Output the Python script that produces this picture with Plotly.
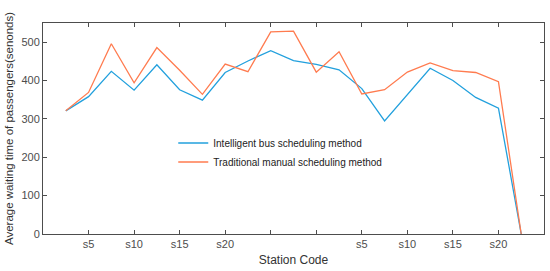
import plotly.graph_objects as go

stations = list(range(1, 22))
intelligent = [321, 358, 424, 375, 441, 376, 349, 421, 451, 478, 452, 442, 428, 379, 295,
               364, 432, 400, 356, 328, 0]
traditional = [321, 369, 496, 394, 486, 427, 364, 443, 423, 527, 529, 422, 475, 365, 376,
               422, 446, 426, 421, 397, 0]
tick_vals = [2, 4, 6, 8, 10, 12, 14, 16, 18, 20]
tick_text = ["s5", "s10", "s15", "s20", "", "", "s5", "s10", "s15", "s20"]
y_ticks = [0, 100, 200, 300, 400, 500]

font = "Liberation Sans, Arial, sans-serif"
axcol = "#4d4d4d"

fig = go.Figure()
fig.add_trace(go.Scatter(x=stations, y=intelligent, mode="lines",
                         name="Intelligent bus scheduling method",
                         line=dict(color="#22A0DD", width=1.3)))
fig.add_trace(go.Scatter(x=stations, y=traditional, mode="lines",
                         name="Traditional manual scheduling method",
                         line=dict(color="#FF7B4F", width=1.3)))

fig.update_layout(
    width=550, height=271,
    margin=dict(l=43, r=6, t=23, b=37),
    paper_bgcolor="white", plot_bgcolor="white",
    font=dict(family=font, size=11, color=axcol),
    showlegend=True,
    legend=dict(x=0.26, y=0.50, xanchor="left", yanchor="top",
                bgcolor="rgba(0,0,0,0)", borderwidth=0,
                font=dict(size=10, color="#222222"),
                tracegroupgap=0, itemwidth=30),
    xaxis=dict(range=[0, 22], tickmode="array", tickvals=tick_vals, ticktext=tick_text,
               ticks="inside", ticklen=4, tickcolor=axcol, showline=True, linecolor=axcol,
               linewidth=1, mirror="ticks", showgrid=False, zeroline=False,
               title=dict(text="Station Code", font=dict(size=12, color="#333333"), standoff=6),
               tickfont=dict(size=11, color=axcol)),
    yaxis=dict(range=[0, 550], tickmode="array", tickvals=y_ticks,
               ticks="inside", ticklen=4, tickcolor=axcol, showline=True, linecolor=axcol,
               linewidth=1, mirror="ticks", showgrid=False, zeroline=False,
               title=dict(text="Average waiting time of passengers(senonds)",
                          font=dict(size=11.5, color="#333333"), standoff=5),
               tickfont=dict(size=11, color=axcol)),
)

fig.write_html("out.html", config={"displayModeBar": False},
               post_script="document.body.style.margin='0';document.body.style.padding='0';")
